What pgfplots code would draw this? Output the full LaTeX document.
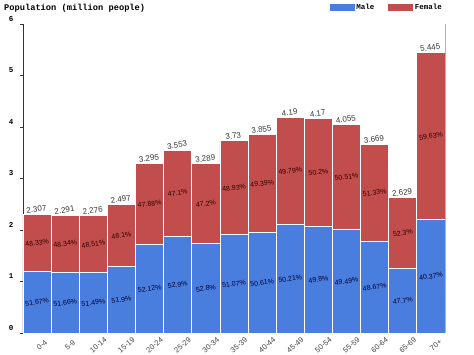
\documentclass[border=0pt]{standalone}
\usepackage{pgfplots}
\pgfplotsset{compat=1.18}
\usepackage{pgfplotstable}
\usepackage{fontspec}
\setmainfont{Liberation Sans}
\setmonofont{Liberation Mono}
\definecolor{maleblue}{RGB}{74,126,222}
\definecolor{femred}{RGB}{194,77,77}
\pgfplotstableread{
x label total male female mp fp
0 0-4 2.307 1.192 1.115 51.67 48.33
1 5-9 2.291 1.1835 1.1075 51.66 48.34
2 10-14 2.276 1.1719 1.1041 51.49 48.51
3 15-19 2.497 1.2959 1.2011 51.9 48.1
4 20-24 3.295 1.7174 1.5776 52.12 47.88
5 25-29 3.553 1.8795 1.6735 52.9 47.1
6 30-34 3.289 1.7366 1.5524 52.8 47.2
7 35-39 3.73 1.9049 1.8251 51.07 48.93
8 40-44 3.855 1.9510 1.9040 50.61 49.39
9 45-49 4.19 2.1038 2.0862 50.21 49.79
10 50-54 4.17 2.0767 2.0933 49.8 50.2
11 55-59 4.055 2.0068 2.0482 49.49 50.51
12 60-64 3.669 1.7857 1.8833 48.67 51.33
13 65-69 2.629 1.2540 1.3750 47.7 52.3
14 70+ 5.445 2.1981 3.2469 40.37 59.63
}\data
\begin{document}
\begin{tikzpicture}
\path[use as bounding box] (0,0) rectangle (474pt,355pt);
\node[anchor=west, font=\ttfamily\bfseries\fontsize{8.7}{10}\selectfont, inner sep=0pt] at (4pt,347pt) {Population (million people)};
\begin{axis}[
  at={(23pt,22pt)}, anchor=south west,
  scale only axis, width=422pt, height=309pt,
  xmin=-0.5, xmax=14.5, ymin=0, ymax=6,
  ytick={0,1,2,3,4,5,6},
  xtick={0,...,14},
  xticklabels from table={\data}{label},
  axis x line*=bottom, axis y line*=left,
  x axis line style={gray!70,-},
  y axis line style={black!80,-},
  xtick style={draw=none},
  ytick style={black!80},
  tick align=outside, major tick length=3pt,
  /pgf/number format/assume math mode=true,
  yticklabel style={font=\ttfamily\bfseries\fontsize{7.5}{8}\selectfont, xshift=-3pt, yshift=5pt},
  xticklabel style={rotate=40, anchor=center, font=\fontsize{7.5}{8}\selectfont, text=black!75, xshift=-2pt, yshift=-10pt, inner sep=0pt},
  /pgf/number format/precision=3,
  legend columns=2,
  legend style={draw=none, fill=none, at={(rel axis cs:1,1)}, anchor=south east, yshift=9pt, xshift=2pt,
    font=\ttfamily\bfseries\fontsize{7.5}{8}\selectfont,
    /tikz/every even column/.append style={column sep=12pt}},
  clip=false,
]
\addlegendimage{legend image code/.code={\fill[maleblue] (0pt,-3pt) rectangle (24pt,3pt);}}
\addlegendentry{Male}
\addlegendimage{legend image code/.code={\fill[femred] (0pt,-3pt) rectangle (24pt,3pt);}}
\addlegendentry{Female}
\addplot[ybar, bar width=1, bar shift=0, fill=femred, draw=white, line width=0.8pt, forget plot] table[x=x,y=total]{\data};
\addplot[ybar, bar width=1, bar shift=0, fill=maleblue, draw=white, line width=0.8pt, forget plot] table[x=x,y=male]{\data};
\draw[gray!60] (rel axis cs:1,0) -- (rel axis cs:1,1);
% totals
\addplot[draw=none, forget plot, nodes near coords, point meta=explicit,
  every node near coord/.append style={rotate=8, font=\fontsize{8}{9}\selectfont, text=black!80, inner sep=2pt}]
  table[x=x, y=total, meta=total]{\data};
% male percentages
\addplot[draw=none, forget plot, nodes near coords={\pgfmathprintnumber{\pgfplotspointmeta}\%}, point meta=explicit,
  nodes near coords align={center},
  every node near coord/.append style={rotate=8, font=\fontsize{7}{8}\selectfont, text=black!80!blue}]
  table[x=x, y expr=\thisrow{male}/2, meta=mp]{\data};
% female percentages
\addplot[draw=none, forget plot, nodes near coords={\pgfmathprintnumber{\pgfplotspointmeta}\%}, point meta=explicit,
  nodes near coords align={center},
  every node near coord/.append style={rotate=8, font=\fontsize{7}{8}\selectfont, text=black!80!red}]
  table[x=x, y expr=\thisrow{male}+\thisrow{female}/2, meta=fp]{\data};
\end{axis}
\end{tikzpicture}
\end{document}
